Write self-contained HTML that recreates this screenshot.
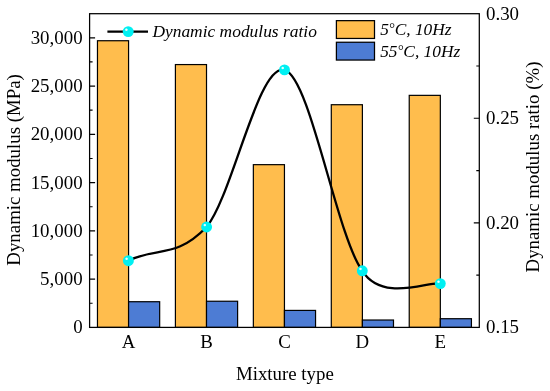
<!DOCTYPE html><html><head><meta charset="utf-8"><title>Dynamic modulus chart</title>
<style>html,body{margin:0;padding:0;background:#fff}svg{display:block}text{font-family:"Liberation Serif","Times New Roman",serif;fill:#000}</style></head><body>
<svg width="550" height="391" viewBox="0 0 550 391">
<defs><radialGradient id="hl" cx="0.5" cy="0.5" r="0.5"><stop offset="0" stop-color="#fff" stop-opacity="1"/><stop offset="0.45" stop-color="#fff" stop-opacity="0.85"/><stop offset="1" stop-color="#fff" stop-opacity="0"/></radialGradient></defs>
<rect x="0" y="0" width="550" height="391" fill="#fff"/>
<rect x="97.47" y="40.73" width="31.10" height="286.67" fill="#FFBD4D" stroke="#000" stroke-width="1.2"/>
<rect x="128.57" y="301.72" width="31.10" height="25.68" fill="#4D7CD4" stroke="#000" stroke-width="1.2"/>
<rect x="175.41" y="64.57" width="31.10" height="262.83" fill="#FFBD4D" stroke="#000" stroke-width="1.2"/>
<rect x="206.51" y="301.24" width="31.10" height="26.16" fill="#4D7CD4" stroke="#000" stroke-width="1.2"/>
<rect x="253.35" y="164.66" width="31.10" height="162.74" fill="#FFBD4D" stroke="#000" stroke-width="1.2"/>
<rect x="284.45" y="310.41" width="31.10" height="16.99" fill="#4D7CD4" stroke="#000" stroke-width="1.2"/>
<rect x="331.29" y="104.72" width="31.10" height="222.68" fill="#FFBD4D" stroke="#000" stroke-width="1.2"/>
<rect x="362.39" y="320.02" width="31.10" height="7.38" fill="#4D7CD4" stroke="#000" stroke-width="1.2"/>
<rect x="409.23" y="95.36" width="31.10" height="232.04" fill="#FFBD4D" stroke="#000" stroke-width="1.2"/>
<rect x="440.33" y="318.71" width="31.10" height="8.69" fill="#4D7CD4" stroke="#000" stroke-width="1.2"/>
<rect x="89.60" y="13.70" width="389.70" height="313.70" fill="none" stroke="#000" stroke-width="1.25"/>
<path d="M89.60,303.27 h3.00 M89.60,279.14 h5.50 M89.60,255.01 h3.00 M89.60,230.88 h5.50 M89.60,206.75 h3.00 M89.60,182.62 h5.50 M89.60,158.48 h3.00 M89.60,134.35 h5.50 M89.60,110.22 h3.00 M89.60,86.09 h5.50 M89.60,61.96 h3.00 M89.60,37.83 h5.50 M479.30,275.12 h-3.00 M479.30,222.83 h-5.50 M479.30,170.55 h-3.00 M479.30,118.27 h-5.50 M479.30,65.98 h-3.00" stroke="#000" stroke-width="1.2" fill="none"/>
<text x="82.60" y="333.40" font-size="18.90" text-anchor="end">0</text>
<text x="82.60" y="285.14" font-size="18.90" text-anchor="end">5,000</text>
<text x="82.60" y="236.88" font-size="18.90" text-anchor="end">10,000</text>
<text x="82.60" y="188.62" font-size="18.90" text-anchor="end">15,000</text>
<text x="82.60" y="140.35" font-size="18.90" text-anchor="end">20,000</text>
<text x="82.60" y="92.09" font-size="18.90" text-anchor="end">25,000</text>
<text x="82.60" y="43.83" font-size="18.90" text-anchor="end">30,000</text>
<text x="486.00" y="333.30" font-size="18.90" text-anchor="start">0.15</text>
<text x="486.00" y="228.73" font-size="18.90" text-anchor="start">0.20</text>
<text x="486.00" y="124.17" font-size="18.90" text-anchor="start">0.25</text>
<text x="486.00" y="19.60" font-size="18.90" text-anchor="start">0.30</text>
<text x="128.57" y="348.40" font-size="18.85" text-anchor="middle">A</text>
<text x="206.51" y="348.40" font-size="18.85" text-anchor="middle">B</text>
<text x="284.45" y="348.40" font-size="18.85" text-anchor="middle">C</text>
<text x="362.39" y="348.40" font-size="18.85" text-anchor="middle">D</text>
<text x="440.33" y="348.40" font-size="18.85" text-anchor="middle">E</text>
<text x="284.85" y="379.90" font-size="18.85" text-anchor="middle">Mixture type</text>
<text transform="translate(20.30,169.90) rotate(-90)" font-size="18.85" text-anchor="middle">Dynamic modulus (MPa)</text>
<text transform="translate(539.40,167.00) rotate(-90)" font-size="18.85" text-anchor="middle">Dynamic modulus ratio (%)</text>
<path d="M128.40,260.70 C157.39,246.31 175.25,259.37 206.60,227.00 C232.62,195.20 258.55,62.60 284.50,69.90 C310.45,77.20 336.33,235.18 362.30,270.80 C382.96,303.39 430.65,280.16 440.30,283.60" stroke="#000" stroke-width="2.3" fill="none" stroke-linecap="round" stroke-linejoin="round"/>
<circle cx="128.40" cy="260.70" r="5.45" fill="#00F0F2"/><circle cx="126.60" cy="258.80" r="1.75" fill="url(#hl)"/>
<circle cx="206.60" cy="227.00" r="5.45" fill="#00F0F2"/><circle cx="204.80" cy="225.10" r="1.75" fill="url(#hl)"/>
<circle cx="284.50" cy="69.90" r="5.45" fill="#00F0F2"/><circle cx="282.70" cy="68.00" r="1.75" fill="url(#hl)"/>
<circle cx="362.30" cy="270.80" r="5.45" fill="#00F0F2"/><circle cx="360.50" cy="268.90" r="1.75" fill="url(#hl)"/>
<circle cx="440.30" cy="283.60" r="5.45" fill="#00F0F2"/><circle cx="438.50" cy="281.70" r="1.75" fill="url(#hl)"/>
<path d="M107.4,31.6 H148" stroke="#000" stroke-width="2.2"/>
<circle cx="128.20" cy="31.60" r="5.45" fill="#00F0F2"/><circle cx="126.40" cy="29.70" r="1.75" fill="url(#hl)"/>
<text x="152.4" y="37.0" font-size="17.33" font-style="italic" textLength="164.5" lengthAdjust="spacingAndGlyphs">Dynamic modulus ratio</text>
<rect x="336.4" y="20.65" width="38.1" height="17.8" fill="#FFBD4D" stroke="#000" stroke-width="1.25"/>
<rect x="336.4" y="42.25" width="38.1" height="17.8" fill="#4D7CD4" stroke="#000" stroke-width="1.25"/>
<text x="380.2" y="35.2" font-size="17.33" font-style="italic" >5<tspan font-size="14.5" dy="-2">°</tspan><tspan dy="2">C, 10Hz</tspan></text>
<text x="380.2" y="56.5" font-size="17.33" font-style="italic" >55<tspan font-size="14.5" dy="-2">°</tspan><tspan dy="2">C, 10Hz</tspan></text>
</svg></body></html>
